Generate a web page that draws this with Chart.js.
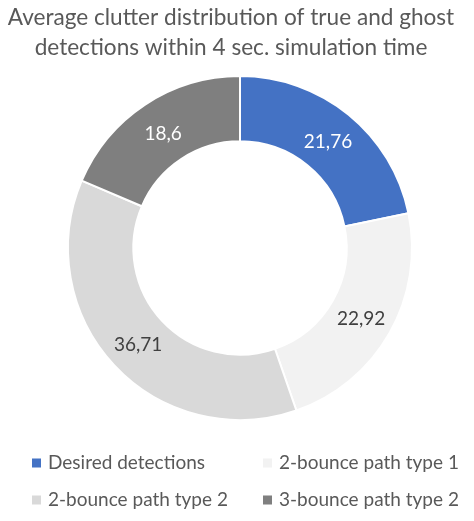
<!DOCTYPE html>
<html><head><meta charset="utf-8">
<script src="https://cdn.jsdelivr.net/npm/chart.js@4/dist/chart.umd.min.js"></script>
<style>html,body{margin:0;padding:0;background:#fff;}#wrap{width:474px;height:521px;position:relative;}</style>
</head><body><div id="wrap"><canvas id="c"></canvas></div>
<script>
const categories = ["Desired detections", "2-bounce path type 1", "2-bounce path type 2", "3-bounce path type 2"];
const values = [21.76, 22.92, 36.71, 18.6];
const valueLabels = ["21,76", "22,92", "36,71", "18,6"];
const colors = ["#4472C4", "#F2F2F2", "#D9D9D9", "#7F7F7F"];
const labelColors = ["#FFFFFF", "#404040", "#404040", "#FFFFFF"];
const titleLines = ["Average clutter distribution of true and ghost", "detections within 4 sec. simulation time"];
const FONT = "Lato, sans-serif";

const titlePlugin = {
  id: 'customTitle',
  afterDraw(chart) {
    const ctx = chart.ctx;
    ctx.save();
    ctx.font = "22.6px " + FONT;
    ctx.fillStyle = '#595959';
    ctx.textAlign = 'center';
    ctx.textBaseline = 'middle';
    titleLines.forEach((t, i) => ctx.fillText(t, 231, 18 + i * 30));
    ctx.restore();
  }
};

const labelPlugin = {
  id: 'sliceLabels',
  afterDatasetsDraw(chart) {
    const ctx = chart.ctx;
    const meta = chart.getDatasetMeta(0);
    ctx.save();
    ctx.font = "19px " + FONT;
    ctx.textAlign = 'center';
    ctx.textBaseline = 'middle';
    meta.data.forEach((arc, i) => {
      const p = arc.tooltipPosition();
      ctx.fillStyle = labelColors[i];
      ctx.fillText(valueLabels[i], p.x, p.y + 2);
    });
    ctx.restore();
  }
};

const legendPlugin = {
  id: 'gridLegend',
  afterDraw(chart) {
    const ctx = chart.ctx;
    const colX = [32, 263];
    const rowY = [463, 500];
    ctx.save();
    ctx.font = "19px " + FONT;
    ctx.textBaseline = 'middle';
    ctx.textAlign = 'left';
    categories.forEach((c, i) => {
      const x = colX[i % 2], y = rowY[Math.floor(i / 2)];
      ctx.fillStyle = colors[i];
      ctx.fillRect(x, y - 4.5, 9, 9);
      ctx.fillStyle = '#595959';
      ctx.fillText(c, x + 16, y);
    });
    ctx.restore();
  }
};

new Chart(document.getElementById('c'), {
  type: 'doughnut',
  data: {
    labels: categories,
    datasets: [{
      data: values,
      backgroundColor: colors,
      borderColor: '#FFFFFF',
      borderWidth: 2,
      hoverOffset: 0
    }]
  },
  options: {
    responsive: true,
    maintainAspectRatio: false,
    animation: false,
    cutout: '62%',
    layout: { padding: { left: 6, right: 0, top: 75, bottom: 100 } },
    plugins: {
      legend: { display: false },
      tooltip: { enabled: false },
      title: { display: false }
    }
  },
  plugins: [titlePlugin, labelPlugin, legendPlugin]
});
</script></body></html>
